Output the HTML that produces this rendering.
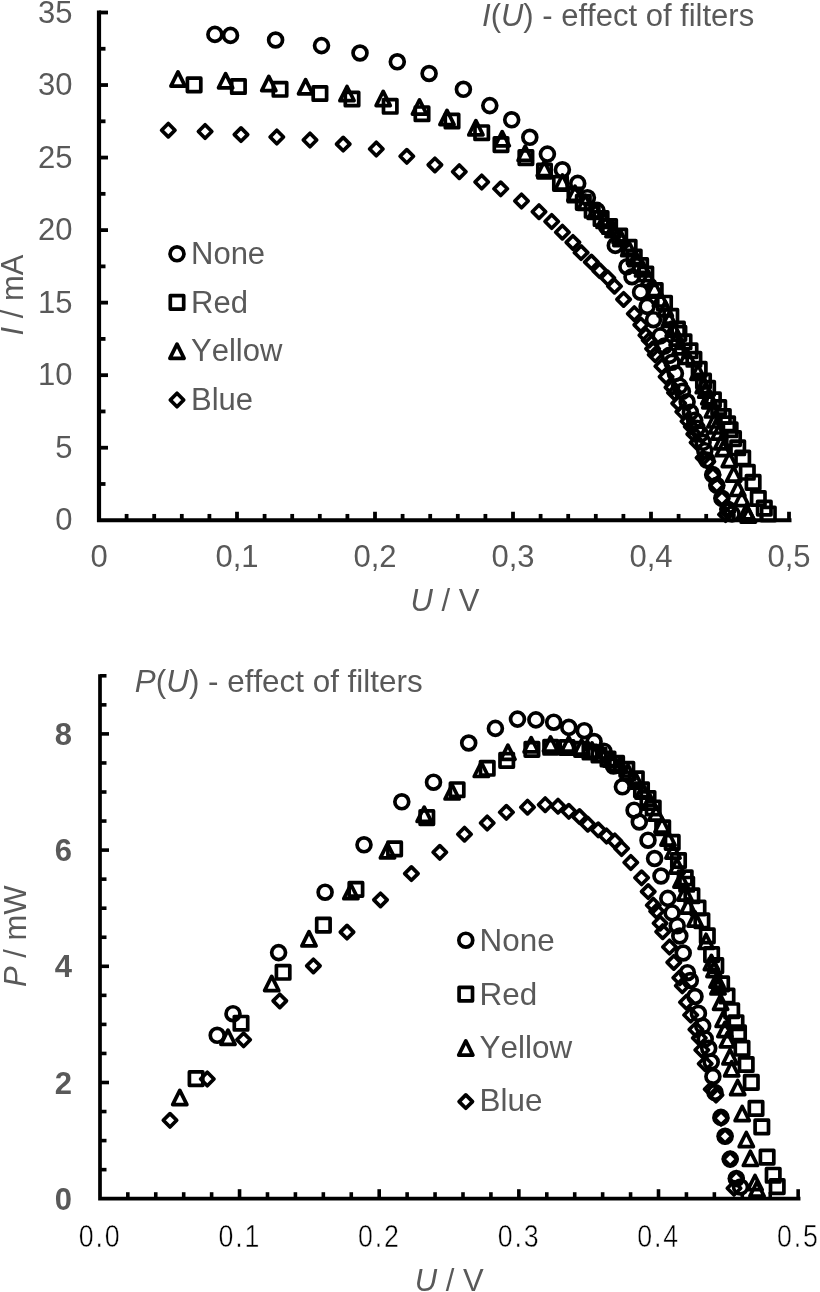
<!DOCTYPE html>
<html><head><meta charset="utf-8"><title>I(U) and P(U) - effect of filters</title>
<style>
html,body{margin:0;padding:0;background:#fff;}
svg{display:block;}
text{font-family:"Liberation Sans",Arial,sans-serif;font-kerning:none;}
.g{fill:#595959;}
.mk{fill:none;stroke:#000;stroke-width:3.7;stroke-linejoin:round;}
.ax{stroke:#000;fill:none;}
</style></head><body>
<svg width="820" height="1292" viewBox="0 0 820 1292">
<g class="ax"><path d="M99 12.6V520.25H789.4" stroke-width="4.2" stroke-linecap="square"/><path d="M99 483.98h6.5" stroke-width="3.8"/><path d="M99 447.72h9" stroke-width="3.8"/><path d="M99 411.45h6.5" stroke-width="3.8"/><path d="M99 375.18h9" stroke-width="3.8"/><path d="M99 338.91h6.5" stroke-width="3.8"/><path d="M99 302.64h9" stroke-width="3.8"/><path d="M99 266.38h6.5" stroke-width="3.8"/><path d="M99 230.11h9" stroke-width="3.8"/><path d="M99 193.84h6.5" stroke-width="3.8"/><path d="M99 157.57h9" stroke-width="3.8"/><path d="M99 121.31h6.5" stroke-width="3.8"/><path d="M99 85.04h9" stroke-width="3.8"/><path d="M99 48.77h6.5" stroke-width="3.8"/><path d="M99 12.50h9" stroke-width="3.8"/><path d="M126.60 520.25v-6.3" stroke-width="3.8"/><path d="M154.20 520.25v-6.3" stroke-width="3.8"/><path d="M181.80 520.25v-6.3" stroke-width="3.8"/><path d="M209.40 520.25v-6.3" stroke-width="3.8"/><path d="M237.00 520.25v-8.5" stroke-width="3.8"/><path d="M264.60 520.25v-6.3" stroke-width="3.8"/><path d="M292.20 520.25v-6.3" stroke-width="3.8"/><path d="M319.80 520.25v-6.3" stroke-width="3.8"/><path d="M347.40 520.25v-6.3" stroke-width="3.8"/><path d="M375.00 520.25v-8.5" stroke-width="3.8"/><path d="M402.60 520.25v-6.3" stroke-width="3.8"/><path d="M430.20 520.25v-6.3" stroke-width="3.8"/><path d="M457.80 520.25v-6.3" stroke-width="3.8"/><path d="M485.40 520.25v-6.3" stroke-width="3.8"/><path d="M513.00 520.25v-8.5" stroke-width="3.8"/><path d="M540.60 520.25v-6.3" stroke-width="3.8"/><path d="M568.20 520.25v-6.3" stroke-width="3.8"/><path d="M595.80 520.25v-6.3" stroke-width="3.8"/><path d="M623.40 520.25v-6.3" stroke-width="3.8"/><path d="M651.00 520.25v-8.5" stroke-width="3.8"/><path d="M678.60 520.25v-6.3" stroke-width="3.8"/><path d="M706.20 520.25v-6.3" stroke-width="3.8"/><path d="M733.80 520.25v-6.3" stroke-width="3.8"/><path d="M761.40 520.25v-6.3" stroke-width="3.8"/><path d="M789.00 520.25v-8.5" stroke-width="3.8"/></g>
<g class="g" font-size="31"><text x="72.5" y="530.2" text-anchor="end">0</text><text x="72.5" y="457.7" text-anchor="end">5</text><text x="72.5" y="385.2" text-anchor="end">10</text><text x="72.5" y="312.6" text-anchor="end">15</text><text x="72.5" y="240.1" text-anchor="end">20</text><text x="72.5" y="167.6" text-anchor="end">25</text><text x="72.5" y="95.0" text-anchor="end">30</text><text x="72.5" y="22.5" text-anchor="end">35</text><text x="99.0" y="566.6" text-anchor="middle">0</text><text x="237.0" y="566.6" text-anchor="middle">0,1</text><text x="375.0" y="566.6" text-anchor="middle">0,2</text><text x="513.0" y="566.6" text-anchor="middle">0,3</text><text x="651.0" y="566.6" text-anchor="middle">0,4</text><text x="789.0" y="566.6" text-anchor="middle">0,5</text></g>
<text class="g" font-size="31" x="482" y="26.3"><tspan font-style="italic">I</tspan>(<tspan font-style="italic">U</tspan>) - effect of filters</text>
<text class="g" font-size="31" x="410.6" y="610.9"><tspan font-style="italic">U</tspan> / V</text>
<text class="g" font-size="31" transform="translate(22.9,335.5) rotate(-90)"><tspan font-style="italic">I</tspan> / mA</text>
<g class="mk"><circle cx="177.0" cy="253.8" r="6.95" /><rect x="170.3" y="295.7" width="13.4" height="13.4" /><path d="M177.0 344.1L184.1 358.3L169.9 358.3Z" /><path d="M177.0 393.3L183.7 400.0L177.0 406.7L170.3 400.0Z" /></g><text class="g" font-size="31" x="191" y="263.8">None</text><text class="g" font-size="31" x="191" y="312.7">Red</text><text class="g" font-size="31" x="191" y="361.3">Yellow</text><text class="g" font-size="31" x="191" y="410.2">Blue</text>
<g class="mk"><path d="M168.3 123.5L175.0 130.2L168.3 136.9L161.6 130.2Z" /><path d="M205.1 124.8L211.8 131.5L205.1 138.2L198.4 131.5Z" /><path d="M241.0 127.9L247.7 134.6L241.0 141.3L234.3 134.6Z" /><path d="M276.8 130.3L283.5 137.0L276.8 143.7L270.1 137.0Z" /><path d="M310.0 133.3L316.7 140.0L310.0 146.7L303.3 140.0Z" /><path d="M343.2 137.4L349.9 144.1L343.2 150.8L336.5 144.1Z" /><path d="M376.3 142.3L383.0 149.0L376.3 155.7L369.6 149.0Z" /><path d="M406.8 149.6L413.5 156.3L406.8 163.0L400.1 156.3Z" /><path d="M434.9 158.2L441.6 164.9L434.9 171.6L428.2 164.9Z" /><path d="M459.3 165.0L466.0 171.7L459.3 178.4L452.6 171.7Z" /><path d="M481.7 175.3L488.4 182.0L481.7 188.7L475.0 182.0Z" /><path d="M500.7 182.1L507.4 188.8L500.7 195.5L494.0 188.8Z" /><path d="M521.5 194.3L528.2 201.0L521.5 207.7L514.8 201.0Z" /><path d="M539.0 205.0L545.7 211.7L539.0 218.4L532.3 211.7Z" /><path d="M551.7 214.8L558.4 221.5L551.7 228.2L545.0 221.5Z" /><path d="M562.4 225.5L569.1 232.2L562.4 238.9L555.7 232.2Z" /><path d="M572.9 235.7L579.6 242.4L572.9 249.1L566.2 242.4Z" /><path d="M581.1 245.9L587.8 252.6L581.1 259.3L574.4 252.6Z" /><path d="M591.4 255.4L598.1 262.1L591.4 268.8L584.7 262.1Z" /><path d="M599.6 263.9L606.3 270.6L599.6 277.3L592.9 270.6Z" /><path d="M607.8 271.3L614.5 278.0L607.8 284.7L601.1 278.0Z" /><path d="M614.5 279.5L621.2 286.2L614.5 292.9L607.8 286.2Z" /><path d="M623.6 292.7L630.3 299.4L623.6 306.1L616.9 299.4Z" /><path d="M634.3 307.0L641.0 313.7L634.3 320.4L627.6 313.7Z" /><path d="M640.8 318.2L647.5 324.9L640.8 331.6L634.1 324.9Z" /><path d="M645.9 328.6L652.6 335.3L645.9 342.0L639.2 335.3Z" /><path d="M649.2 333.5L655.9 340.2L649.2 346.9L642.5 340.2Z" /><path d="M652.6 342.1L659.3 348.8L652.6 355.5L645.9 348.8Z" /><path d="M655.2 348.1L661.9 354.8L655.2 361.5L648.5 354.8Z" /><path d="M661.9 359.5L668.6 366.2L661.9 372.9L655.2 366.2Z" /><path d="M666.1 370.0L672.8 376.7L666.1 383.4L659.4 376.7Z" /><path d="M672.0 380.7L678.7 387.4L672.0 394.1L665.3 387.4Z" /><path d="M674.5 386.1L681.2 392.8L674.5 399.5L667.8 392.8Z" /><path d="M678.7 396.7L685.4 403.4L678.7 410.1L672.0 403.4Z" /><path d="M682.8 405.1L689.5 411.8L682.8 418.5L676.1 411.8Z" /><path d="M688.0 414.6L694.7 421.3L688.0 428.0L681.3 421.3Z" /><path d="M691.3 420.1L698.0 426.8L691.3 433.5L684.6 426.8Z" /><path d="M693.8 427.4L700.5 434.1L693.8 440.8L687.1 434.1Z" /><path d="M697.1 435.8L703.8 442.5L697.1 449.2L690.4 442.5Z" /><path d="M703.1 451.1L709.8 457.8L703.1 464.5L696.4 457.8Z" /><path d="M707.8 454.9L714.5 461.6L707.8 468.3L701.1 461.6Z" /><path d="M712.9 468.4L719.6 475.1L712.9 481.8L706.2 475.1Z" /><path d="M716.8 478.7L723.5 485.4L716.8 492.1L710.1 485.4Z" /><path d="M721.9 491.6L728.6 498.3L721.9 505.0L715.2 498.3Z" /><path d="M727.9 502.5L734.6 509.2L727.9 515.9L721.2 509.2Z" /><path d="M725.6 507.8L732.3 514.5L725.6 521.2L718.9 514.5Z" /><path d="M178.0 71.9L185.1 86.1L170.9 86.1Z" /><path d="M225.6 73.6L232.7 87.8L218.5 87.8Z" /><path d="M268.8 76.4L275.9 90.6L261.7 90.6Z" /><path d="M305.6 79.6L312.7 93.8L298.5 93.8Z" /><path d="M347.0 86.5L354.1 100.7L339.9 100.7Z" /><path d="M383.2 91.4L390.3 105.6L376.1 105.6Z" /><path d="M419.5 99.9L426.6 114.1L412.4 114.1Z" /><path d="M447.0 110.4L454.1 124.6L439.9 124.6Z" /><path d="M475.9 120.7L483.0 134.9L468.8 134.9Z" /><path d="M502.2 131.6L509.3 145.8L495.1 145.8Z" /><path d="M525.2 146.2L532.3 160.4L518.1 160.4Z" /><path d="M544.3 161.3L551.4 175.5L537.2 175.5Z" /><path d="M562.4 175.0L569.5 189.2L555.3 189.2Z" /><path d="M575.0 186.2L582.1 200.4L567.9 200.4Z" /><path d="M585.3 195.2L592.4 209.4L578.2 209.4Z" /><path d="M595.2 204.3L602.3 218.5L588.1 218.5Z" /><path d="M604.1 213.2L611.2 227.4L597.0 227.4Z" /><path d="M613.0 222.4L620.1 236.6L605.9 236.6Z" /><path d="M620.9 231.4L628.0 245.6L613.8 245.6Z" /><path d="M628.8 241.5L635.9 255.7L621.7 255.7Z" /><path d="M635.7 251.4L642.8 265.6L628.6 265.6Z" /><path d="M642.6 261.7L649.7 275.9L635.5 275.9Z" /><path d="M648.5 271.3L655.6 285.5L641.4 285.5Z" /><path d="M654.5 281.3L661.6 295.5L647.4 295.5Z" /><path d="M660.4 291.8L667.5 306.0L653.3 306.0Z" /><path d="M665.3 301.6L672.4 315.8L658.2 315.8Z" /><path d="M669.3 312.1L676.4 326.3L662.2 326.3Z" /><path d="M673.2 321.9L680.3 336.1L666.1 336.1Z" /><path d="M677.1 330.9L684.2 345.1L670.0 345.1Z" /><path d="M680.2 339.6L687.3 353.8L673.1 353.8Z" /><path d="M687.2 349.3L694.3 363.5L680.1 363.5Z" /><path d="M698.0 365.1L705.1 379.3L690.9 379.3Z" /><path d="M703.3 378.5L710.4 392.7L696.2 392.7Z" /><path d="M705.8 383.0L712.9 397.2L698.7 397.2Z" /><path d="M708.8 389.6L715.9 403.8L701.7 403.8Z" /><path d="M709.8 393.6L716.9 407.8L702.7 407.8Z" /><path d="M712.4 402.8L719.5 417.0L705.3 417.0Z" /><path d="M714.9 412.8L722.0 427.0L707.8 427.0Z" /><path d="M716.6 418.8L723.7 433.0L709.5 433.0Z" /><path d="M719.1 424.9L726.2 439.1L712.0 439.1Z" /><path d="M721.7 434.6L728.8 448.8L714.6 448.8Z" /><path d="M723.3 441.5L730.4 455.7L716.2 455.7Z" /><path d="M729.3 452.4L736.4 466.6L722.2 466.6Z" /><path d="M733.7 467.0L740.8 481.2L726.6 481.2Z" /><path d="M737.8 481.3L744.9 495.5L730.7 495.5Z" /><path d="M741.8 491.5L748.9 505.7L734.7 505.7Z" /><path d="M746.4 504.6L753.5 518.8L739.3 518.8Z" /><path d="M748.3 508.0L755.4 522.2L741.2 522.2Z" /><rect x="187.4" y="78.2" width="13.4" height="13.4" /><rect x="231.7" y="79.8" width="13.4" height="13.4" /><rect x="273.3" y="82.6" width="13.4" height="13.4" /><rect x="313.2" y="86.8" width="13.4" height="13.4" /><rect x="345.3" y="92.3" width="13.4" height="13.4" /><rect x="383.5" y="99.6" width="13.4" height="13.4" /><rect x="415.3" y="107.0" width="13.4" height="13.4" /><rect x="445.3" y="114.3" width="13.4" height="13.4" /><rect x="475.0" y="126.0" width="13.4" height="13.4" /><rect x="494.3" y="137.9" width="13.4" height="13.4" /><rect x="519.2" y="150.9" width="13.4" height="13.4" /><rect x="537.8" y="164.4" width="13.4" height="13.4" /><rect x="553.8" y="176.7" width="13.4" height="13.4" /><rect x="568.3" y="188.3" width="13.4" height="13.4" /><rect x="576.6" y="195.7" width="13.4" height="13.4" /><rect x="585.5" y="203.6" width="13.4" height="13.4" /><rect x="594.4" y="211.8" width="13.4" height="13.4" /><rect x="602.9" y="219.8" width="13.4" height="13.4" /><rect x="613.0" y="229.4" width="13.4" height="13.4" /><rect x="622.4" y="240.6" width="13.4" height="13.4" /><rect x="627.5" y="250.3" width="13.4" height="13.4" /><rect x="633.9" y="258.9" width="13.4" height="13.4" /><rect x="639.1" y="267.3" width="13.4" height="13.4" /><rect x="648.5" y="283.8" width="13.4" height="13.4" /><rect x="657.8" y="296.5" width="13.4" height="13.4" /><rect x="664.1" y="309.7" width="13.4" height="13.4" /><rect x="670.7" y="322.4" width="13.4" height="13.4" /><rect x="672.2" y="326.7" width="13.4" height="13.4" /><rect x="677.3" y="335.1" width="13.4" height="13.4" /><rect x="683.3" y="344.1" width="13.4" height="13.4" /><rect x="687.2" y="352.6" width="13.4" height="13.4" /><rect x="692.5" y="362.7" width="13.4" height="13.4" /><rect x="696.8" y="374.4" width="13.4" height="13.4" /><rect x="700.9" y="381.6" width="13.4" height="13.4" /><rect x="706.7" y="393.1" width="13.4" height="13.4" /><rect x="712.0" y="400.8" width="13.4" height="13.4" /><rect x="716.6" y="409.8" width="13.4" height="13.4" /><rect x="720.9" y="417.1" width="13.4" height="13.4" /><rect x="723.4" y="423.0" width="13.4" height="13.4" /><rect x="726.8" y="431.9" width="13.4" height="13.4" /><rect x="731.0" y="441.1" width="13.4" height="13.4" /><rect x="736.0" y="451.3" width="13.4" height="13.4" /><rect x="740.6" y="465.6" width="13.4" height="13.4" /><rect x="746.4" y="475.7" width="13.4" height="13.4" /><rect x="751.6" y="491.8" width="13.4" height="13.4" /><rect x="757.6" y="501.4" width="13.4" height="13.4" /><rect x="761.6" y="507.3" width="13.4" height="13.4" /><circle cx="214.9" cy="34.4" r="6.95" /><circle cx="230.5" cy="35.4" r="6.95" /><circle cx="275.6" cy="40.0" r="6.95" /><circle cx="321.5" cy="45.6" r="6.95" /><circle cx="360.0" cy="53.0" r="6.95" /><circle cx="397.3" cy="61.8" r="6.95" /><circle cx="429.1" cy="73.5" r="6.95" /><circle cx="463.4" cy="89.3" r="6.95" /><circle cx="489.8" cy="105.6" r="6.95" /><circle cx="511.7" cy="119.8" r="6.95" /><circle cx="529.8" cy="137.3" r="6.95" /><circle cx="547.4" cy="154.1" r="6.95" /><circle cx="562.4" cy="169.8" r="6.95" /><circle cx="577.7" cy="183.4" r="6.95" /><circle cx="587.4" cy="197.7" r="6.95" /><circle cx="597.0" cy="210.6" r="6.95" /><circle cx="606.5" cy="226.5" r="6.95" /><circle cx="615.3" cy="245.4" r="6.95" /><circle cx="626.9" cy="266.7" r="6.95" /><circle cx="632.0" cy="276.7" r="6.95" /><circle cx="640.6" cy="292.2" r="6.95" /><circle cx="647.1" cy="306.4" r="6.95" /><circle cx="653.5" cy="319.7" r="6.95" /><circle cx="660.2" cy="335.9" r="6.95" /><circle cx="664.4" cy="346.1" r="6.95" /><circle cx="669.5" cy="355.4" r="6.95" /><circle cx="672.0" cy="362.3" r="6.95" /><circle cx="675.4" cy="373.4" r="6.95" /><circle cx="679.6" cy="386.1" r="6.95" /><circle cx="682.4" cy="391.4" r="6.95" /><circle cx="687.1" cy="401.8" r="6.95" /><circle cx="690.4" cy="412.2" r="6.95" /><circle cx="694.7" cy="420.4" r="6.95" /><circle cx="697.1" cy="428.2" r="6.95" /><circle cx="700.6" cy="434.1" r="6.95" /><circle cx="703.1" cy="442.3" r="6.95" /><circle cx="704.8" cy="450.7" r="6.95" /><circle cx="706.8" cy="460.0" r="6.95" /><circle cx="712.7" cy="474.6" r="6.95" /><circle cx="716.8" cy="485.4" r="6.95" /><circle cx="721.9" cy="498.3" r="6.95" /><circle cx="727.9" cy="509.2" r="6.95" /><circle cx="732.0" cy="513.9" r="6.95" /></g>
<g class="ax"><path d="M100 676.1V1198.7H798.6" stroke-width="3.7" stroke-linecap="square"/><path d="M100 1169.65h6.5" stroke-width="3.6"/><path d="M100 1140.60h6.5" stroke-width="3.6"/><path d="M100 1111.55h6.5" stroke-width="3.6"/><path d="M100 1082.50h9" stroke-width="3.6"/><path d="M100 1053.45h6.5" stroke-width="3.6"/><path d="M100 1024.40h6.5" stroke-width="3.6"/><path d="M100 995.35h6.5" stroke-width="3.6"/><path d="M100 966.30h9" stroke-width="3.6"/><path d="M100 937.25h6.5" stroke-width="3.6"/><path d="M100 908.20h6.5" stroke-width="3.6"/><path d="M100 879.15h6.5" stroke-width="3.6"/><path d="M100 850.10h9" stroke-width="3.6"/><path d="M100 821.05h6.5" stroke-width="3.6"/><path d="M100 792.00h6.5" stroke-width="3.6"/><path d="M100 762.95h6.5" stroke-width="3.6"/><path d="M100 733.90h9" stroke-width="3.6"/><path d="M100 704.85h6.5" stroke-width="3.6"/><path d="M100 675.80h6.5" stroke-width="3.6"/><path d="M127.83 1198.7v-6.5" stroke-width="3.6"/><path d="M155.76 1198.7v-6.5" stroke-width="3.6"/><path d="M183.69 1198.7v-6.5" stroke-width="3.6"/><path d="M211.62 1198.7v-6.5" stroke-width="3.6"/><path d="M239.55 1198.7v-9.5" stroke-width="3.6"/><path d="M267.48 1198.7v-6.5" stroke-width="3.6"/><path d="M295.41 1198.7v-6.5" stroke-width="3.6"/><path d="M323.34 1198.7v-6.5" stroke-width="3.6"/><path d="M351.27 1198.7v-6.5" stroke-width="3.6"/><path d="M379.20 1198.7v-9.5" stroke-width="3.6"/><path d="M407.13 1198.7v-6.5" stroke-width="3.6"/><path d="M435.06 1198.7v-6.5" stroke-width="3.6"/><path d="M462.99 1198.7v-6.5" stroke-width="3.6"/><path d="M490.92 1198.7v-6.5" stroke-width="3.6"/><path d="M518.85 1198.7v-9.5" stroke-width="3.6"/><path d="M546.78 1198.7v-6.5" stroke-width="3.6"/><path d="M574.71 1198.7v-6.5" stroke-width="3.6"/><path d="M602.64 1198.7v-6.5" stroke-width="3.6"/><path d="M630.57 1198.7v-6.5" stroke-width="3.6"/><path d="M658.50 1198.7v-9.5" stroke-width="3.6"/><path d="M686.43 1198.7v-6.5" stroke-width="3.6"/><path d="M714.36 1198.7v-6.5" stroke-width="3.6"/><path d="M742.29 1198.7v-6.5" stroke-width="3.6"/><path d="M770.22 1198.7v-6.5" stroke-width="3.6"/><path d="M798.15 1198.7v-9.5" stroke-width="3.6"/></g>
<g class="g" font-size="31"><text x="72" y="1209.7" text-anchor="end" font-weight="bold">0</text><text x="72" y="1093.5" text-anchor="end" font-weight="bold">2</text><text x="72" y="977.3" text-anchor="end" font-weight="bold">4</text><text x="72" y="861.1" text-anchor="end" font-weight="bold">6</text><text x="72" y="744.9" text-anchor="end" font-weight="bold">8</text></g>
<g fill="#000" font-size="31.5" stroke="#fff" stroke-width="0.5"><text transform="translate(100.1,1246.6) scale(0.85,1)" text-anchor="middle" letter-spacing="2.2">0.0</text><text transform="translate(239.8,1246.6) scale(0.85,1)" text-anchor="middle" letter-spacing="2.2">0.1</text><text transform="translate(379.4,1246.6) scale(0.85,1)" text-anchor="middle" letter-spacing="2.2">0.2</text><text transform="translate(519.1,1246.6) scale(0.85,1)" text-anchor="middle" letter-spacing="2.2">0.3</text><text transform="translate(658.7,1246.6) scale(0.85,1)" text-anchor="middle" letter-spacing="2.2">0.4</text><text transform="translate(798.4,1246.6) scale(0.85,1)" text-anchor="middle" letter-spacing="2.2">0.5</text></g>
<text class="g" font-size="31.4" x="134.8" y="691.8"><tspan font-style="italic">P</tspan>(<tspan font-style="italic">U</tspan>) - effect of filters</text>
<text class="g" font-size="31" x="414.8" y="1291"><tspan font-style="italic">U</tspan> / V</text>
<text class="g" font-size="31" transform="translate(26.3,987) rotate(-90)"><tspan font-style="italic">P</tspan> / mW</text>
<g class="mk"><circle cx="465.8" cy="940.2" r="6.95" /><rect x="459.1" y="987.4" width="13.4" height="13.4" /><path d="M465.8 1040.9L472.9 1055.1L458.7 1055.1Z" /><path d="M465.8 1094.9L472.5 1101.6L465.8 1108.3L459.1 1101.6Z" /></g><text class="g" font-size="31.4" x="479.6" y="951.4">None</text><text class="g" font-size="31.4" x="479.6" y="1005">Red</text><text class="g" font-size="31.4" x="479.6" y="1058.3">Yellow</text><text class="g" font-size="31.4" x="479.6" y="1111">Blue</text>
<g class="mk"><path d="M170.0 1113.6L176.7 1120.3L170.0 1127.0L163.3 1120.3Z" /><path d="M207.3 1072.3L214.0 1079.0L207.3 1085.7L200.6 1079.0Z" /><path d="M243.6 1033.1L250.3 1039.8L243.6 1046.5L236.9 1039.8Z" /><path d="M279.8 994.2L286.5 1000.9L279.8 1007.6L273.1 1000.9Z" /><path d="M313.4 959.2L320.1 965.9L313.4 972.6L306.7 965.9Z" /><path d="M347.0 925.4L353.7 932.1L347.0 938.8L340.3 932.1Z" /><path d="M380.5 893.2L387.2 899.9L380.5 906.6L373.8 899.9Z" /><path d="M411.4 866.9L418.1 873.6L411.4 880.3L404.7 873.6Z" /><path d="M439.8 845.6L446.5 852.3L439.8 859.0L433.1 852.3Z" /><path d="M464.5 827.5L471.2 834.2L464.5 840.9L457.8 834.2Z" /><path d="M487.2 816.3L493.9 823.0L487.2 829.7L480.5 823.0Z" /><path d="M506.4 805.6L513.1 812.3L506.4 819.0L499.7 812.3Z" /><path d="M527.5 800.5L534.2 807.2L527.5 813.9L520.8 807.2Z" /><path d="M545.2 798.0L551.9 804.7L545.2 811.4L538.5 804.7Z" /><path d="M558.0 799.5L564.7 806.2L558.0 812.9L551.3 806.2Z" /><path d="M568.8 804.6L575.5 811.3L568.8 818.0L562.1 811.3Z" /><path d="M579.5 809.9L586.2 816.6L579.5 823.3L572.8 816.6Z" /><path d="M587.8 817.5L594.5 824.2L587.8 830.9L581.1 824.2Z" /><path d="M598.2 823.1L604.9 829.8L598.2 836.5L591.5 829.8Z" /><path d="M606.5 829.3L613.2 836.0L606.5 842.7L599.8 836.0Z" /><path d="M614.8 834.3L621.5 841.0L614.8 847.7L608.1 841.0Z" /><path d="M621.6 841.8L628.3 848.5L621.6 855.2L614.9 848.5Z" /><path d="M630.8 855.8L637.5 862.5L630.8 869.2L624.1 862.5Z" /><path d="M641.6 871.1L648.3 877.8L641.6 884.5L634.9 877.8Z" /><path d="M648.2 884.9L654.9 891.6L648.2 898.3L641.5 891.6Z" /><path d="M653.3 898.5L660.0 905.2L653.3 911.9L646.6 905.2Z" /><path d="M656.7 904.5L663.4 911.2L656.7 917.9L650.0 911.2Z" /><path d="M660.1 916.5L666.8 923.2L660.1 929.9L653.4 923.2Z" /><path d="M662.7 925.0L669.4 931.7L662.7 938.4L656.0 931.7Z" /><path d="M669.5 940.3L676.2 947.0L669.5 953.7L662.8 947.0Z" /><path d="M673.8 955.7L680.5 962.4L673.8 969.1L667.1 962.4Z" /><path d="M679.8 971.1L686.5 977.8L679.8 984.5L673.1 977.8Z" /><path d="M682.3 979.1L689.0 985.8L682.3 992.5L675.6 985.8Z" /><path d="M686.5 995.5L693.2 1002.2L686.5 1008.9L679.8 1002.2Z" /><path d="M690.7 1008.3L697.4 1015.0L690.7 1021.7L684.0 1015.0Z" /><path d="M695.9 1022.8L702.6 1029.5L695.9 1036.2L689.2 1029.5Z" /><path d="M699.3 1031.3L706.0 1038.0L699.3 1044.7L692.6 1038.0Z" /><path d="M701.8 1043.3L708.5 1050.0L701.8 1056.7L695.1 1050.0Z" /><path d="M705.2 1057.0L711.9 1063.7L705.2 1070.4L698.5 1063.7Z" /><path d="M711.2 1082.6L717.9 1089.3L711.2 1096.0L704.5 1089.3Z" /><path d="M716.0 1088.3L722.7 1095.0L716.0 1101.7L709.3 1095.0Z" /><path d="M721.1 1111.5L727.8 1118.2L721.1 1124.9L714.4 1118.2Z" /><path d="M725.1 1129.6L731.8 1136.3L725.1 1143.0L718.4 1136.3Z" /><path d="M730.2 1152.4L736.9 1159.1L730.2 1165.8L723.5 1159.1Z" /><path d="M736.3 1171.8L743.0 1178.5L736.3 1185.2L729.6 1178.5Z" /><path d="M734.0 1181.6L740.7 1188.3L734.0 1195.0L727.3 1188.3Z" /><path d="M179.8 1090.4L186.9 1104.6L172.7 1104.6Z" /><path d="M228.0 1030.1L235.1 1044.3L220.9 1044.3Z" /><path d="M271.7 976.4L278.8 990.6L264.6 990.6Z" /><path d="M309.0 931.7L316.1 945.9L301.9 945.9Z" /><path d="M350.9 884.5L358.0 898.7L343.8 898.7Z" /><path d="M387.5 843.7L394.6 857.9L380.4 857.9Z" /><path d="M424.2 807.2L431.3 821.4L417.1 821.4Z" /><path d="M452.1 784.8L459.2 799.0L445.0 799.0Z" /><path d="M481.3 762.3L488.4 776.5L474.2 776.5Z" /><path d="M507.9 745.1L515.0 759.3L500.8 759.3Z" /><path d="M531.2 737.7L538.3 751.9L524.1 751.9Z" /><path d="M550.5 736.9L557.6 751.1L543.4 751.1Z" /><path d="M568.8 736.9L575.9 751.1L561.7 751.1Z" /><path d="M581.6 739.9L588.7 754.1L574.5 754.1Z" /><path d="M592.0 742.9L599.1 757.1L584.9 757.1Z" /><path d="M602.0 746.9L609.1 761.1L594.9 761.1Z" /><path d="M611.0 751.9L618.1 766.1L603.9 766.1Z" /><path d="M620.0 757.9L627.1 772.1L612.9 772.1Z" /><path d="M628.0 764.9L635.1 779.1L620.9 779.1Z" /><path d="M636.0 773.9L643.1 788.1L628.9 788.1Z" /><path d="M643.0 783.9L650.1 798.1L635.9 798.1Z" /><path d="M650.0 794.9L657.1 809.1L642.9 809.1Z" /><path d="M656.0 805.9L663.1 820.1L648.9 820.1Z" /><path d="M662.0 817.9L669.1 832.1L654.9 832.1Z" /><path d="M668.0 830.9L675.1 845.1L660.9 845.1Z" /><path d="M673.0 843.9L680.1 858.1L665.9 858.1Z" /><path d="M677.0 858.9L684.1 873.1L669.9 873.1Z" /><path d="M681.0 872.9L688.1 887.1L673.9 887.1Z" /><path d="M684.9 885.9L692.0 900.1L677.8 900.1Z" /><path d="M688.0 898.9L695.1 913.1L680.9 913.1Z" /><path d="M695.1 911.9L702.2 926.1L688.0 926.1Z" /><path d="M706.1 934.3L713.2 948.5L699.0 948.5Z" /><path d="M711.4 955.4L718.5 969.6L704.3 969.6Z" /><path d="M714.0 962.4L721.1 976.6L706.9 976.6Z" /><path d="M717.0 972.9L724.1 987.1L709.9 987.1Z" /><path d="M718.0 979.7L725.1 993.9L710.9 993.9Z" /><path d="M720.6 995.1L727.7 1009.3L713.5 1009.3Z" /><path d="M723.2 1012.2L730.3 1026.4L716.1 1026.4Z" /><path d="M724.9 1022.4L732.0 1036.6L717.8 1036.6Z" /><path d="M727.4 1032.7L734.5 1046.9L720.3 1046.9Z" /><path d="M730.0 1049.7L737.1 1063.9L722.9 1063.9Z" /><path d="M731.7 1061.7L738.8 1075.9L724.6 1075.9Z" /><path d="M737.7 1080.5L744.8 1094.7L730.6 1094.7Z" /><path d="M742.2 1106.5L749.3 1120.7L735.1 1120.7Z" /><path d="M746.3 1132.5L753.4 1146.7L739.2 1146.7Z" /><path d="M750.4 1151.3L757.5 1165.5L743.3 1165.5Z" /><path d="M755.0 1175.5L762.1 1189.7L747.9 1189.7Z" /><path d="M757.0 1181.9L764.1 1196.1L749.9 1196.1Z" /><rect x="189.4" y="1071.9" width="13.4" height="13.4" /><rect x="234.3" y="1016.5" width="13.4" height="13.4" /><rect x="276.4" y="965.6" width="13.4" height="13.4" /><rect x="316.7" y="918.4" width="13.4" height="13.4" /><rect x="349.2" y="882.7" width="13.4" height="13.4" /><rect x="387.9" y="842.2" width="13.4" height="13.4" /><rect x="420.1" y="810.9" width="13.4" height="13.4" /><rect x="450.4" y="783.0" width="13.4" height="13.4" /><rect x="480.5" y="761.6" width="13.4" height="13.4" /><rect x="500.0" y="753.7" width="13.4" height="13.4" /><rect x="525.2" y="742.7" width="13.4" height="13.4" /><rect x="544.0" y="740.6" width="13.4" height="13.4" /><rect x="560.2" y="740.8" width="13.4" height="13.4" /><rect x="574.9" y="742.7" width="13.4" height="13.4" /><rect x="583.3" y="745.3" width="13.4" height="13.4" /><rect x="592.3" y="748.3" width="13.4" height="13.4" /><rect x="601.3" y="752.3" width="13.4" height="13.4" /><rect x="609.9" y="756.7" width="13.4" height="13.4" /><rect x="620.1" y="762.6" width="13.4" height="13.4" /><rect x="629.6" y="772.1" width="13.4" height="13.4" /><rect x="634.8" y="783.1" width="13.4" height="13.4" /><rect x="641.3" y="791.8" width="13.4" height="13.4" /><rect x="646.5" y="801.3" width="13.4" height="13.4" /><rect x="656.0" y="821.1" width="13.4" height="13.4" /><rect x="665.5" y="835.7" width="13.4" height="13.4" /><rect x="671.8" y="853.8" width="13.4" height="13.4" /><rect x="678.5" y="871.1" width="13.4" height="13.4" /><rect x="680.0" y="877.5" width="13.4" height="13.4" /><rect x="685.2" y="889.1" width="13.4" height="13.4" /><rect x="691.3" y="901.3" width="13.4" height="13.4" /><rect x="695.2" y="914.1" width="13.4" height="13.4" /><rect x="700.6" y="929.2" width="13.4" height="13.4" /><rect x="704.9" y="947.9" width="13.4" height="13.4" /><rect x="709.1" y="958.9" width="13.4" height="13.4" /><rect x="714.9" y="977.2" width="13.4" height="13.4" /><rect x="720.3" y="989.3" width="13.4" height="13.4" /><rect x="725.0" y="1004.0" width="13.4" height="13.4" /><rect x="729.3" y="1016.0" width="13.4" height="13.4" /><rect x="731.8" y="1026.2" width="13.4" height="13.4" /><rect x="735.3" y="1041.6" width="13.4" height="13.4" /><rect x="739.5" y="1057.8" width="13.4" height="13.4" /><rect x="744.6" y="1075.7" width="13.4" height="13.4" /><rect x="749.3" y="1101.7" width="13.4" height="13.4" /><rect x="755.1" y="1120.2" width="13.4" height="13.4" /><rect x="760.4" y="1150.4" width="13.4" height="13.4" /><rect x="766.5" y="1168.5" width="13.4" height="13.4" /><rect x="770.5" y="1179.9" width="13.4" height="13.4" /><circle cx="217.2" cy="1035.3" r="6.95" /><circle cx="233.0" cy="1013.7" r="6.95" /><circle cx="278.6" cy="952.6" r="6.95" /><circle cx="325.1" cy="892.2" r="6.95" /><circle cx="364.0" cy="844.8" r="6.95" /><circle cx="401.8" cy="801.8" r="6.95" /><circle cx="433.5" cy="782.2" r="6.95" /><circle cx="468.7" cy="743.0" r="6.95" /><circle cx="495.4" cy="728.4" r="6.95" /><circle cx="517.5" cy="719.1" r="6.95" /><circle cx="535.9" cy="719.9" r="6.95" /><circle cx="553.7" cy="722.2" r="6.95" /><circle cx="568.8" cy="727.4" r="6.95" /><circle cx="584.3" cy="730.7" r="6.95" /><circle cx="594.1" cy="741.5" r="6.95" /><circle cx="603.9" cy="751.2" r="6.95" /><circle cx="613.5" cy="766.0" r="6.95" /><circle cx="622.4" cy="786.8" r="6.95" /><circle cx="634.1" cy="810.2" r="6.95" /><circle cx="639.3" cy="822.0" r="6.95" /><circle cx="648.0" cy="840.2" r="6.95" /><circle cx="654.6" cy="858.5" r="6.95" /><circle cx="661.0" cy="876.0" r="6.95" /><circle cx="667.8" cy="898.4" r="6.95" /><circle cx="672.1" cy="912.9" r="6.95" /><circle cx="677.2" cy="925.7" r="6.95" /><circle cx="679.8" cy="936.0" r="6.95" /><circle cx="683.2" cy="953.0" r="6.95" /><circle cx="687.4" cy="972.7" r="6.95" /><circle cx="690.3" cy="980.5" r="6.95" /><circle cx="695.0" cy="996.5" r="6.95" /><circle cx="698.4" cy="1013.3" r="6.95" /><circle cx="702.7" cy="1026.1" r="6.95" /><circle cx="705.2" cy="1038.9" r="6.95" /><circle cx="708.7" cy="1048.3" r="6.95" /><circle cx="711.2" cy="1062.0" r="6.95" /><circle cx="712.9" cy="1076.5" r="6.95" /><circle cx="715.0" cy="1092.5" r="6.95" /><circle cx="720.9" cy="1117.4" r="6.95" /><circle cx="725.1" cy="1136.3" r="6.95" /><circle cx="730.2" cy="1159.1" r="6.95" /><circle cx="736.3" cy="1178.5" r="6.95" /><circle cx="740.5" cy="1187.0" r="6.95" /></g>
</svg>
</body></html>
